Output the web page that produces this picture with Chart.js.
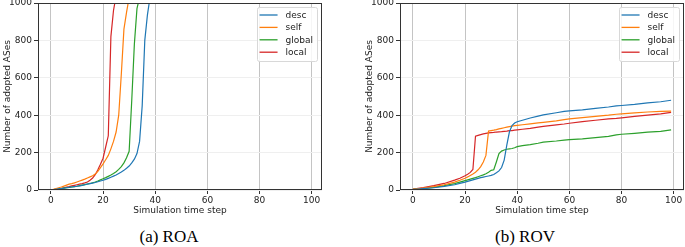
<!DOCTYPE html>
<html><head><meta charset="utf-8">
<script src="https://cdn.jsdelivr.net/npm/chart.js@4/dist/chart.umd.min.js"></script>
<style>
html,body{margin:0;padding:0;background:#fff;}
#wrap{position:relative;width:685px;height:247px;overflow:hidden;background:#fff;}
canvas{position:absolute;}
#c1{left:0;top:-10px;}
#c2{left:340px;top:-10px;}
.cap{position:absolute;font-family:"Liberation Serif","Times New Roman",serif;font-size:17px;color:#000;top:227px;transform:translateX(-50%);white-space:nowrap;line-height:19px;}
</style></head>
<body>
<div id="wrap">
<canvas id="c1" width="330" height="226"></canvas>
<canvas id="c2" width="345" height="226"></canvas>
<div class="cap" style="left:169px">(a) ROA</div>
<div class="cap" style="left:525px">(b) ROV</div>
</div>
<script>
// ---------- DATA ----------
const SERIES = ['desc', 'self', 'global', 'local'];
const COLORS = ['#1f77b4', '#ff7f0e', '#2ca02c', '#d62728'];
const X_TICKS = [0, 20, 40, 60, 80, 100];
const Y_TICKS = [0, 200, 400, 600, 800, 1000];

// (a) ROA: one value per simulation step, starting at step 0
const roaDesc   = [0,2,4,6,8,10,12,14,16,18,20,22,25,28,31,34,37,40,44,48,52,57,62,68,74,80,88,96,105,116,128,145,165,195,260,450,800,935,1030];
const roaSelf   = [0,4,8,12,16,21,26,31,34,38,43,48,53,58,64,70,76,85,100,120,140,162,185,220,260,310,400,620,860,950,1030];
const roaGlobal = [0,2,4,6,8,10,12,14,16,18,20,23,26,29,32,35,39,43,48,54,60,66,73,80,88,98,110,125,145,172,207,480,780,970,1030];
const roaLocal  = [0,2,4,6,9,12,15,18,22,25,28,31,34,38,43,52,64,82,108,138,170,230,290,820,960,1040];

// (b) ROV: values at these simulation steps
const rovSteps  = [0,4,8,12,16,18,20,21,22,23,24,25,26,27,28,29,30,31,32,33,34,35,36,37,38,39,40,42,45,48,50,55,58,60,65,70,75,78,80,85,90,95,99];
const rovDesc   = [2,7,12,19,28,35,42,46,50,54,58,62,66,69,72,75,78,83,92,102,120,160,240,310,345,358,365,373,385,395,402,413,420,423,428,436,444,450,452,458,466,472,480];
const rovSelf   = [3,10,18,28,42,52,63,70,78,86,95,108,125,150,185,315,318,320,323,327,330,333,336,339,342,344,346,349,354,359,362,370,376,380,387,394,400,405,407,412,417,420,422];
const rovGlobal = [3,8,14,23,34,42,50,54,58,62,66,71,76,81,87,95,105,108,150,195,208,214,218,220,222,226,232,237,243,250,256,262,267,269,273,280,287,295,298,303,309,314,322];
const rovLocal  = [5,13,23,35,53,63,76,84,94,110,288,292,296,300,303,305,307,308,310,311,312,314,315,317,318,320,322,325,330,336,340,348,353,357,366,373,380,383,386,394,400,407,415];

// ---------- HELPERS ----------
const FONT = {family: 'DejaVu Sans', size: 9};
function pts(xs, ys) { return ys.map((v, i) => ({x: xs[i], y: v})); }
function idx(arr) { return arr.map((_, i) => i); }

const framePlugin = {
  id: 'frame',
  afterDatasetsDraw(chart) {
    const {ctx, chartArea: a} = chart;
    ctx.save();
    ctx.strokeStyle = '#333';
    ctx.lineWidth = 1;
    ctx.strokeRect(Math.round(a.left) + 0.5, Math.round(a.top) + 0.5, Math.round(a.right - a.left) - 1, Math.round(a.bottom - a.top) - 1);
    ctx.restore();
  }
};

const legendPlugin = {
  id: 'insideLegend',
  afterDraw(chart) {
    const {ctx, chartArea: a} = chart;
    const ds = chart.data.datasets;
    ctx.save();
    ctx.font = '9px "DejaVu Sans"';
    const tw = Math.max(...ds.map(d => ctx.measureText(d.label).width));
    const padL = 3, hl = 18, gap = 8, padR = 4, rowH = 12.4;
    const w = padL + hl + gap + tw + padR;
    const h = ds.length * rowH + 4;
    const x0 = a.right - 5 - w, y0 = a.top + 4;
    ctx.fillStyle = 'rgba(255,255,255,0.85)';
    ctx.strokeStyle = '#d8d8d8';
    ctx.lineWidth = 1;
    ctx.beginPath();
    ctx.roundRect(Math.round(x0) + 0.5, Math.round(y0) + 0.5, Math.round(w), Math.round(h), 2);
    ctx.fill(); ctx.stroke();
    ds.forEach((d, i) => {
      const cy = y0 + 8 + i * rowH;
      ctx.strokeStyle = d.borderColor;
      ctx.lineWidth = 1.3;
      ctx.beginPath();
      ctx.moveTo(x0 + padL, cy); ctx.lineTo(x0 + padL + hl, cy);
      ctx.stroke();
      ctx.fillStyle = '#222';
      ctx.textBaseline = 'middle';
      ctx.fillText(d.label, x0 + padL + hl + gap, cy + 0.5);
    });
    ctx.restore();
  }
};

function makeChart(id, datasets, padLeft, padRight) {
  return new Chart(document.getElementById(id), {
    type: 'line',
    data: {datasets},
    plugins: [framePlugin, legendPlugin],
    options: {
      responsive: false, animation: false,
      layout: {padding: {top: 13, left: padLeft, right: padRight, bottom: 0}},
      plugins: {legend: {display: false}, tooltip: {enabled: false}},
      elements: {point: {radius: 0}, line: {borderWidth: 1.2, tension: 0}},
      scales: {
        x: {
          type: 'linear', min: -4.95, max: 103.95,
          afterBuildTicks(s) { s.ticks = X_TICKS.map(v => ({value: v})); },
          ticks: {color: '#222', font: FONT, padding: 1, maxRotation: 0, callback: v => String(v)},
          grid: {color: '#c4c4c4', tickLength: 4, tickColor: '#333'},
          border: {display: false},
          title: {display: true, text: 'Simulation time step', color: '#222', font: FONT, padding: 0},
          afterFit(s) { s.height = 26; }
        },
        y: {
          min: 0, max: 1000,
          afterBuildTicks(s) { s.ticks = Y_TICKS.map(v => ({value: v})); },
          ticks: {color: '#222', font: FONT, padding: 2, callback: v => String(v)},
          grid: {color: '#efefef', tickLength: 4, tickColor: '#333'},
          border: {display: false},
          title: {display: true, text: 'Number of adopted ASes', color: '#222', font: FONT, padding: {top: 2, bottom: 0}},
          afterFit(s) { s.width = 38; }
        }
      }
    }
  });
}

const roaVals = [roaDesc, roaSelf, roaGlobal, roaLocal];
const rovVals = [rovDesc, rovSelf, rovGlobal, rovLocal];

makeChart('c1', SERIES.map((name, i) => ({
  label: name, data: pts(idx(roaVals[i]), roaVals[i]),
  borderColor: COLORS[i], backgroundColor: COLORS[i], fill: false
})), 0, 8);

makeChart('c2', SERIES.map((name, i) => ({
  label: name, data: pts(rovSteps, rovVals[i]),
  borderColor: COLORS[i], backgroundColor: COLORS[i], fill: false
})), 22, 1);
</script>
</body></html>
